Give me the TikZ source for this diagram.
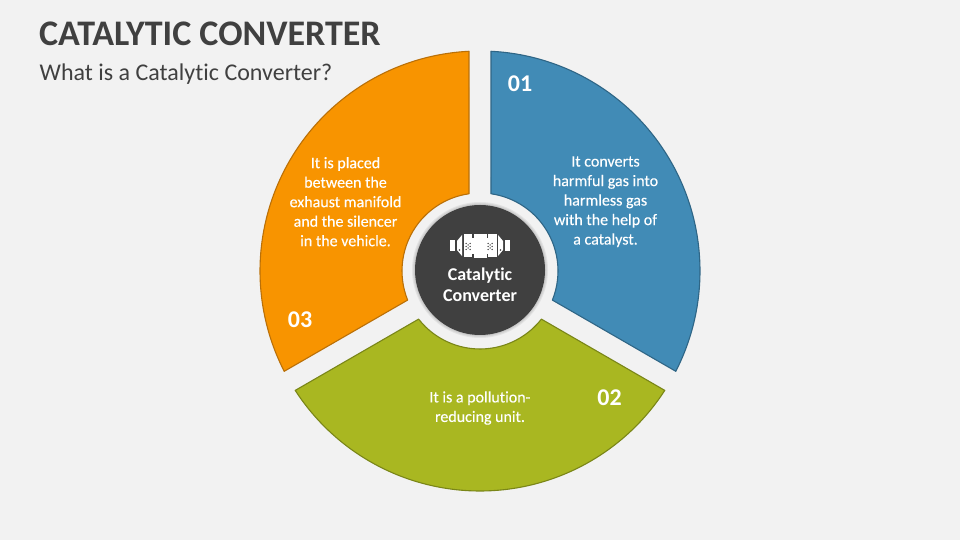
\documentclass[tikz,border=0pt]{standalone}
\usepackage{fontspec}
\setmainfont[Ligatures=NoCommon]{Carlito}
\newfontfamily\bodyfont[Ligatures=NoCommon, FakeBold=0.25]{Carlito}
\usepackage{tikz}
\usetikzlibrary{positioning}
\definecolor{bgcolor}{RGB}{242, 242, 242}
\definecolor{titlecolor}{RGB}{64, 64, 64}
\definecolor{bluecolor}{RGB}{65, 139, 182}
\definecolor{blueedge}{RGB}{47, 102, 134}
\definecolor{greencolor}{RGB}{169, 183, 33}
\definecolor{greenedge}{RGB}{122, 134, 24}
\definecolor{orangecolor}{RGB}{248, 148, 0}
\definecolor{orangeedge}{RGB}{186, 112, 8}
\tikzset{
    sector/.style = {line width=1.1pt, line join=round},
    bodytext/.style = {text=white, align=center, font=\bodyfont\fontsize{16}{19.5}\selectfont, inner sep=0pt},
    numtext/.style = {text=white, font=\fontsize{24}{28}\selectfont\bfseries, inner sep=0pt},
    hub/.style = {circle, minimum size=130pt, inner sep=0pt, fill=titlecolor},
    icon/.style = {fill=white, draw=none},
    icondot/.style = {fill=titlecolor, draw=none}
}
\begin{document}
\begin{tikzpicture}[x=1pt, y=1pt]
\useasboundingbox (0,0) rectangle (960,540);
\fill[bgcolor] (0,0) rectangle (960,540);
% Title
\node[anchor=west, inner sep=0pt, text=titlecolor, font=\fontsize{36}{40}\selectfont\bfseries] (title) at (39,506) {CATALYTIC CONVERTER};
\node[anchor=west, inner sep=0pt, text=titlecolor, font=\fontsize{24}{28}\selectfont] (subtitle) at (39.5,466) {What is a Catalytic Converter?};
% Sectors
\coordinate (hubc) at (480,269);
\draw[sector, fill=bluecolor, draw=blueedge] ([shift={(87.13:220)}]hubc) arc[start angle=87.13, end angle=-27.13, radius=220pt] -- ([shift={(-21.9:78)}]hubc) arc[start angle=-21.9, end angle=81.9, radius=78pt] -- cycle;
\draw[sector, fill=greencolor, draw=greenedge] ([shift={(-32.87:220)}]hubc) arc[start angle=-32.87, end angle=-147.13, radius=220pt] -- ([shift={(-141.9:78)}]hubc) arc[start angle=-141.9, end angle=-38.1, radius=78pt] -- cycle;
\draw[sector, fill=orangecolor, draw=orangeedge] ([shift={(92.87:220)}]hubc) arc[start angle=92.87, end angle=207.13, radius=220pt] -- ([shift={(201.9:78)}]hubc) arc[start angle=201.9, end angle=98.1, radius=78pt] -- cycle;
% Hub
\foreach \r in {66,67,68}
    \fill[black, opacity=0.06] (480,270) circle[radius=\r pt];
\node[hub] (hub) at (480,270) {};
\node[text=white, align=center, inner sep=0pt, font=\fontsize{18}{21}\selectfont\bfseries] (hublabel) at (480,255) {Catalytic\\Converter};
% Icon
\fill[icon] (450,289) rectangle (455,300);
\fill[icon] (505,289) rectangle (510,300);
\fill[icon] (457,290) -- (462,284) -- (462,305) -- (457,299) -- cycle;
\fill[icon] (503,290) -- (498,284) -- (498,305) -- (503,299) -- cycle;
\fill[icon] (463.5,283) rectangle (472,306);
\fill[icon] (488,283) rectangle (496.5,306);
\fill[icon] (473.5,282) rectangle (486.5,306);
\fill[icon] (472,286) rectangle (488,302);
\foreach \x in {468,490} {
    \foreach \dx/\dy in {-2/3,2/3,0/1.5,-2/0,2/0,0/-1.5,-2/-3,2/-3}
        \fill[icondot] (\x+\dx,293.5+\dy) circle[radius=0.75pt];
}
\fill[icondot] (459.5,290) circle[radius=0.9pt];
\fill[icondot] (500.5,290) circle[radius=0.9pt];
% Text
\node[bodytext] (txtone) at (605.5,338.3) {It converts\\harmful gas into\\harmless gas\\with the help of\\a catalyst.};
\node[bodytext] (txttwo) at (480,132) {It is a pollution-\\reducing unit.};
\node[bodytext] (txtthree) at (345.5,338.3) {It is placed\\between the\\exhaust manifold\\and the silencer\\in the vehicle.};
\node[numtext] (numone) at (520,456) {01};
\node[numtext] (numtwo) at (609.5,142) {02};
\node[numtext] (numthree) at (300,220) {03};
\end{tikzpicture}
\end{document}
